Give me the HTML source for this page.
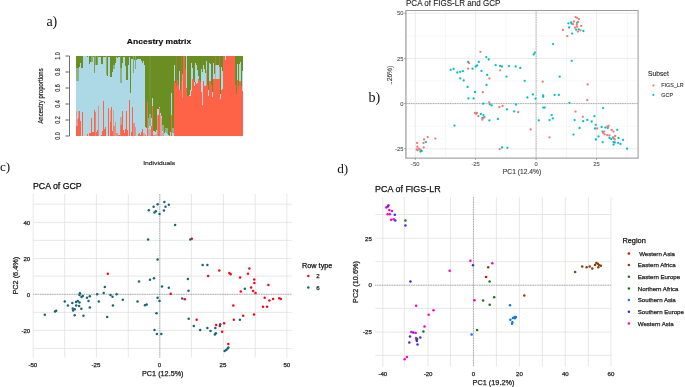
<!DOCTYPE html>
<html><head><meta charset="utf-8"><title>Figure</title>
<style>
html,body{margin:0;padding:0;background:#fff;}
svg{display:block;}
text.s{font-family:"Liberation Sans", Arial, Helvetica, sans-serif;}
text.r{font-family:"Liberation Serif", "Times New Roman", serif;}
</style></head><body>
<svg width="685" height="387" viewBox="0 0 685 387">
<rect width="685" height="387" fill="#fff"/>
<text class="r" x="46.4" y="26" font-size="14" fill="#111" text-anchor="start">a)</text>
<text class="s" x="0" y="0" font-size="7.4" fill="#111" text-anchor="middle" font-weight="bold" transform="translate(159 44) scale(1.15 1)" stroke="#111" stroke-width="0.15">Ancestry matrix</text>
<g shape-rendering="crispEdges">
<rect x="76" y="56" width="167" height="80" fill="#ADD8E6"/>
<rect x="76" y="56" width="1" height="25" fill="#6B8E23" fill-opacity="0.5"/>
<rect x="76" y="111" width="1" height="25" fill="#FF6347" fill-opacity="0.5"/>
<rect x="76" y="56" width="1" height="12" fill="#6B8E23"/>
<rect x="76" y="126.0" width="1" height="10" fill="#FF6347"/>
<rect x="77" y="56" width="1" height="25" fill="#6B8E23" fill-opacity="0.5"/>
<rect x="77" y="119" width="1" height="17" fill="#FF6347" fill-opacity="0.5"/>
<rect x="77" y="56" width="1" height="12" fill="#6B8E23"/>
<rect x="77" y="126.0" width="1" height="10" fill="#FF6347"/>
<rect x="78" y="56" width="1" height="25" fill="#6B8E23" fill-opacity="0.5"/>
<rect x="78" y="111" width="1" height="25" fill="#FF6347" fill-opacity="0.5"/>
<rect x="78" y="56" width="1" height="12" fill="#6B8E23"/>
<rect x="78" y="118.0" width="1" height="18" fill="#FF6347"/>
<rect x="79" y="56" width="1" height="11.4" fill="#6B8E23"/>
<rect x="79" y="111.0" width="1" height="25" fill="#FF6347"/>
<rect x="80" y="56" width="1" height="7" fill="#6B8E23"/>
<rect x="80" y="121.4" width="1" height="14.6" fill="#FF6347"/>
<rect x="81" y="56" width="1" height="12.4" fill="#6B8E23"/>
<rect x="82" y="56" width="1" height="12.4" fill="#6B8E23"/>
<rect x="82" y="112.0" width="1" height="24" fill="#FF6347"/>
<rect x="87" y="56" width="1" height="1" fill="#6B8E23"/>
<rect x="87" y="134.0" width="1" height="2" fill="#FF6347"/>
<rect x="88" y="135.5" width="1" height="0.5" fill="#FF6347"/>
<rect x="89" y="56" width="1" height="7.8" fill="#6B8E23"/>
<rect x="89" y="133.3" width="1" height="2.7" fill="#FF6347"/>
<rect x="90" y="56" width="1" height="5.7" fill="#6B8E23"/>
<rect x="90" y="132.8" width="1" height="3.2" fill="#FF6347"/>
<rect x="91" y="56" width="1" height="5.7" fill="#6B8E23" fill-opacity="0.6"/>
<rect x="91" y="118.3" width="1" height="17.7" fill="#FF6347"/>
<rect x="92" y="56" width="1" height="5.7" fill="#6B8E23" fill-opacity="0.6"/>
<rect x="92" y="132.3" width="1" height="3.7" fill="#FF6347"/>
<rect x="93" y="56" width="1" height="1" fill="#6B8E23"/>
<rect x="93" y="132.3" width="1" height="3.7" fill="#FF6347"/>
<rect x="94" y="56" width="1" height="16.6" fill="#6B8E23" fill-opacity="0.75"/>
<rect x="94" y="110.0" width="1" height="26" fill="#FF6347"/>
<rect x="95" y="56" width="1" height="9" fill="#6B8E23" fill-opacity="0.6"/>
<rect x="95" y="112.0" width="1" height="24" fill="#FF6347" fill-opacity="0.7"/>
<rect x="96" y="56" width="1" height="9.3" fill="#6B8E23"/>
<rect x="96" y="132.3" width="1" height="3.7" fill="#FF6347"/>
<rect x="97" y="56" width="1" height="9.3" fill="#6B8E23" fill-opacity="0.7"/>
<rect x="97" y="129.7" width="1" height="6.3" fill="#FF6347"/>
<rect x="98" y="56" width="1" height="1" fill="#6B8E23"/>
<rect x="98" y="106.0" width="1" height="30" fill="#FF6347" fill-opacity="0.6"/>
<rect x="99" y="56" width="1" height="1" fill="#6B8E23"/>
<rect x="99" y="135.5" width="1" height="0.5" fill="#FF6347"/>
<rect x="100" y="56" width="1" height="1" fill="#6B8E23"/>
<rect x="100" y="135.5" width="1" height="0.5" fill="#FF6347"/>
<rect x="101" y="56" width="1" height="7.8" fill="#6B8E23"/>
<rect x="101" y="135.0" width="1" height="1" fill="#FF6347"/>
<rect x="102" y="56" width="1" height="7.8" fill="#6B8E23"/>
<rect x="102" y="131.2" width="1" height="4.8" fill="#FF6347"/>
<rect x="103" y="56" width="1" height="1" fill="#6B8E23"/>
<rect x="103" y="100.7" width="1" height="35.3" fill="#FF6347"/>
<rect x="104" y="56" width="1" height="1" fill="#6B8E23"/>
<rect x="104" y="129.2" width="1" height="6.8" fill="#FF6347"/>
<rect x="105" y="56" width="1" height="1" fill="#6B8E23"/>
<rect x="105" y="127.1" width="1" height="8.9" fill="#FF6347"/>
<rect x="106" y="56" width="1" height="19" fill="#6B8E23" fill-opacity="0.55"/>
<rect x="106" y="135.5" width="1" height="0.5" fill="#FF6347"/>
<rect x="107" y="56" width="1" height="20" fill="#6B8E23"/>
<rect x="107" y="135.5" width="1" height="0.5" fill="#FF6347"/>
<rect x="108" y="56" width="1" height="1" fill="#6B8E23"/>
<rect x="108" y="108.0" width="1" height="28" fill="#FF6347"/>
<rect x="109" y="56" width="1" height="1" fill="#6B8E23"/>
<rect x="109" y="135.5" width="1" height="0.5" fill="#FF6347"/>
<rect x="110" y="110" width="1" height="26" fill="#FF6347" fill-opacity="0.5"/>
<rect x="110" y="56" width="1" height="20.7" fill="#6B8E23"/>
<rect x="110" y="122.0" width="1" height="14" fill="#FF6347"/>
<rect x="111" y="56" width="1" height="20.7" fill="#6B8E23"/>
<rect x="111" y="107.0" width="1" height="29" fill="#FF6347"/>
<rect x="112" y="56" width="1" height="16" fill="#6B8E23"/>
<rect x="112" y="130.7" width="1" height="5.3" fill="#FF6347"/>
<rect x="113" y="56" width="1" height="13" fill="#6B8E23" fill-opacity="0.5"/>
<rect x="113" y="110" width="1" height="26" fill="#FF6347" fill-opacity="0.5"/>
<rect x="113" y="56" width="1" height="8.8" fill="#6B8E23"/>
<rect x="113" y="126.0" width="1" height="10" fill="#FF6347" fill-opacity="0.5"/>
<rect x="114" y="56" width="1" height="13" fill="#6B8E23" fill-opacity="0.5"/>
<rect x="114" y="56" width="1" height="8.8" fill="#6B8E23"/>
<rect x="114" y="126.0" width="1" height="10" fill="#FF6347" fill-opacity="0.6"/>
<rect x="115" y="56" width="1" height="6.7" fill="#6B8E23"/>
<rect x="115" y="122.0" width="1" height="14" fill="#FF6347" fill-opacity="0.6"/>
<rect x="116" y="56" width="1" height="1" fill="#6B8E23"/>
<rect x="116" y="133.3" width="1" height="2.7" fill="#FF6347" fill-opacity="0.6"/>
<rect x="117" y="56" width="1" height="1.5" fill="#6B8E23"/>
<rect x="117" y="133.3" width="1" height="2.7" fill="#FF6347" fill-opacity="0.6"/>
<rect x="118" y="56" width="1" height="1" fill="#6B8E23"/>
<rect x="118" y="135.0" width="1" height="1" fill="#FF6347"/>
<rect x="119" y="56" width="1" height="0.5" fill="#6B8E23"/>
<rect x="119" y="135.0" width="1" height="1" fill="#FF6347"/>
<rect x="120" y="56" width="1" height="26.7" fill="#6B8E23" fill-opacity="0.5"/>
<rect x="120" y="117.2" width="1" height="18.8" fill="#FF6347" fill-opacity="0.5"/>
<rect x="120" y="56" width="1" height="12" fill="#6B8E23" fill-opacity="0.6"/>
<rect x="120" y="125.0" width="1" height="11" fill="#FF6347" fill-opacity="0.6"/>
<rect x="121" y="56" width="1" height="26.7" fill="#6B8E23" fill-opacity="0.5"/>
<rect x="121" y="117.2" width="1" height="18.8" fill="#FF6347" fill-opacity="0.5"/>
<rect x="121" y="56" width="1" height="12" fill="#6B8E23"/>
<rect x="121" y="125.0" width="1" height="11" fill="#FF6347"/>
<rect x="122" y="56" width="1" height="6.7" fill="#6B8E23"/>
<rect x="122" y="111.0" width="1" height="25" fill="#FF6347"/>
<rect x="123" y="56" width="1" height="0.5" fill="#6B8E23"/>
<rect x="123" y="129.7" width="1" height="6.3" fill="#FF6347"/>
<rect x="124" y="56" width="1" height="0.5" fill="#6B8E23"/>
<rect x="124" y="133.3" width="1" height="2.7" fill="#FF6347"/>
<rect x="125" y="56" width="1" height="10.4" fill="#6B8E23"/>
<rect x="125" y="129.2" width="1" height="6.8" fill="#FF6347"/>
<rect x="126" y="56" width="1" height="24.4" fill="#6B8E23"/>
<rect x="126" y="111.0" width="1" height="25" fill="#FF6347"/>
<rect x="127" y="56" width="1" height="24.4" fill="#6B8E23"/>
<rect x="127" y="129.7" width="1" height="6.3" fill="#FF6347"/>
<rect x="128" y="56" width="1" height="9.3" fill="#6B8E23"/>
<rect x="128" y="135.5" width="1" height="0.5" fill="#FF6347"/>
<rect x="129" y="56" width="1" height="1" fill="#6B8E23"/>
<rect x="129" y="100.1" width="1" height="35.9" fill="#FF6347"/>
<rect x="130" y="56" width="1" height="36.8" fill="#6B8E23"/>
<rect x="130" y="135.5" width="1" height="0.5" fill="#FF6347"/>
<rect x="131" y="56" width="1" height="3" fill="#6B8E23"/>
<rect x="131" y="131.8" width="1" height="4.2" fill="#FF6347"/>
<rect x="132" y="56" width="1" height="3" fill="#6B8E23"/>
<rect x="132" y="107.0" width="1" height="29" fill="#FF6347"/>
<rect x="133" y="56" width="1" height="17" fill="#6B8E23" fill-opacity="0.6"/>
<rect x="133" y="123.0" width="1" height="13" fill="#FF6347" fill-opacity="0.6"/>
<rect x="134" y="56" width="1" height="4" fill="#6B8E23"/>
<rect x="134" y="123.0" width="1" height="13" fill="#FF6347" fill-opacity="0.6"/>
<rect x="135" y="56" width="1" height="13" fill="#6B8E23" fill-opacity="0.6"/>
<rect x="135" y="126.6" width="1" height="9.4" fill="#FF6347" fill-opacity="0.6"/>
<rect x="136" y="56" width="1" height="4" fill="#6B8E23"/>
<rect x="136" y="135.5" width="1" height="0.5" fill="#FF6347"/>
<rect x="137" y="56" width="1" height="2.5" fill="#6B8E23"/>
<rect x="137" y="135.5" width="1" height="0.5" fill="#FF6347"/>
<rect x="138" y="56" width="1" height="2.5" fill="#6B8E23"/>
<rect x="138" y="133.8" width="1" height="2.2" fill="#FF6347"/>
<rect x="139" y="56" width="1" height="2.5" fill="#6B8E23"/>
<rect x="139" y="132.8" width="1" height="3.2" fill="#FF6347"/>
<rect x="140" y="56" width="1" height="3" fill="#6B8E23"/>
<rect x="140" y="135.0" width="1" height="1" fill="#FF6347"/>
<rect x="141" y="56" width="1" height="5" fill="#6B8E23"/>
<rect x="141" y="131.8" width="1" height="4.2" fill="#FF6347"/>
<rect x="142" y="56" width="1" height="6.7" fill="#6B8E23"/>
<rect x="142" y="129.2" width="1" height="6.8" fill="#FF6347"/>
<rect x="143" y="56" width="1" height="4.5" fill="#6B8E23"/>
<rect x="143" y="133.0" width="1" height="3" fill="#FF6347" fill-opacity="0.5"/>
<rect x="144" y="56" width="1" height="9.3" fill="#6B8E23"/>
<rect x="144" y="133.0" width="1" height="3" fill="#FF6347" fill-opacity="0.4"/>
<rect x="145" y="56" width="1" height="70.8" fill="#6B8E23"/>
<rect x="145" y="135.0" width="1" height="1" fill="#FF6347"/>
<rect x="146" y="56" width="1" height="71.5" fill="#6B8E23"/>
<rect x="146" y="135.5" width="1" height="0.5" fill="#FF6347"/>
<rect x="147" y="56" width="1" height="45.7" fill="#6B8E23"/>
<rect x="147" y="101.7" width="1" height="34.3" fill="#FF6347"/>
<rect x="148" y="56" width="1" height="72" fill="#6B8E23" fill-opacity="0.5"/>
<rect x="148" y="56" width="1" height="62" fill="#6B8E23"/>
<rect x="148" y="129.0" width="1" height="7" fill="#FF6347" fill-opacity="0.4"/>
<rect x="149" y="56" width="1" height="70" fill="#6B8E23" fill-opacity="0.5"/>
<rect x="149" y="56" width="1" height="58" fill="#6B8E23" fill-opacity="0.85"/>
<rect x="149" y="129.0" width="1" height="7" fill="#FF6347" fill-opacity="0.4"/>
<rect x="150" y="56" width="1" height="70" fill="#6B8E23" fill-opacity="0.5"/>
<rect x="150" y="56" width="1" height="58" fill="#6B8E23" fill-opacity="0.85"/>
<rect x="150" y="129.0" width="1" height="7" fill="#FF6347" fill-opacity="0.4"/>
<rect x="151" y="56" width="1" height="62" fill="#6B8E23"/>
<rect x="151" y="125.8" width="1" height="10.2" fill="#FF6347"/>
<rect x="152" y="56" width="1" height="42" fill="#6B8E23"/>
<rect x="152" y="106.4" width="1" height="29.6" fill="#FF6347"/>
<rect x="153" y="56" width="1" height="74.5" fill="#6B8E23"/>
<rect x="153" y="134.5" width="1" height="1.5" fill="#FF6347" fill-opacity="0.6"/>
<rect x="154" y="56" width="1" height="75" fill="#6B8E23"/>
<rect x="154" y="134.5" width="1" height="1.5" fill="#FF6347" fill-opacity="0.6"/>
<rect x="155" y="56" width="1" height="75.5" fill="#6B8E23"/>
<rect x="155" y="134.5" width="1" height="1.5" fill="#FF6347" fill-opacity="0.6"/>
<rect x="156" y="56" width="1" height="74" fill="#6B8E23"/>
<rect x="156" y="134.0" width="1" height="2" fill="#FF6347" fill-opacity="0.5"/>
<rect x="157" y="56" width="1" height="53" fill="#6B8E23"/>
<rect x="157" y="115.3" width="1" height="20.7" fill="#FF6347" fill-opacity="0.6"/>
<rect x="158" y="56" width="1" height="53" fill="#6B8E23"/>
<rect x="158" y="115.2" width="1" height="20.8" fill="#FF6347"/>
<rect x="159" y="56" width="1" height="51" fill="#6B8E23"/>
<rect x="159" y="108.3" width="1" height="27.7" fill="#FF6347"/>
<rect x="160" y="56" width="1" height="57" fill="#6B8E23"/>
<rect x="160" y="115.0" width="1" height="21" fill="#FF6347" fill-opacity="0.45"/>
<rect x="161" y="56" width="1" height="60" fill="#6B8E23"/>
<rect x="161" y="118.0" width="1" height="18" fill="#FF6347" fill-opacity="0.4"/>
<rect x="162" y="56" width="1" height="75" fill="#6B8E23" fill-opacity="0.5"/>
<rect x="162" y="56" width="1" height="68.7" fill="#6B8E23"/>
<rect x="162" y="133.0" width="1" height="3" fill="#FF6347" fill-opacity="0.4"/>
<rect x="163" y="56" width="1" height="75" fill="#6B8E23" fill-opacity="0.5"/>
<rect x="163" y="56" width="1" height="68.7" fill="#6B8E23"/>
<rect x="163" y="131.0" width="1" height="5" fill="#FF6347" fill-opacity="0.5"/>
<rect x="164" y="56" width="1" height="77" fill="#6B8E23"/>
<rect x="165" y="56" width="1" height="76" fill="#6B8E23" fill-opacity="0.5"/>
<rect x="165" y="56" width="1" height="71.8" fill="#6B8E23"/>
<rect x="166" y="56" width="1" height="77" fill="#6B8E23" fill-opacity="0.5"/>
<rect x="166" y="56" width="1" height="72" fill="#6B8E23"/>
<rect x="167" y="56" width="1" height="78" fill="#6B8E23" fill-opacity="0.5"/>
<rect x="167" y="56" width="1" height="72" fill="#6B8E23"/>
<rect x="168" y="56" width="1" height="79" fill="#6B8E23"/>
<rect x="169" y="56" width="1" height="79.5" fill="#6B8E23"/>
<rect x="170" y="56" width="1" height="76" fill="#6B8E23"/>
<rect x="171" y="56" width="1" height="37" fill="#6B8E23"/>
<rect x="171" y="114.7" width="1" height="21.3" fill="#FF6347"/>
<rect x="172" y="56" width="1" height="77" fill="#6B8E23" fill-opacity="0.5"/>
<rect x="172" y="56" width="1" height="72.3" fill="#6B8E23"/>
<rect x="173" y="56" width="1" height="77" fill="#6B8E23" fill-opacity="0.5"/>
<rect x="173" y="56" width="1" height="72.3" fill="#6B8E23"/>
<rect x="174" y="56" width="1" height="8.8" fill="#6B8E23"/>
<rect x="174" y="81.0" width="1" height="55" fill="#FF6347"/>
<rect x="175" y="56" width="1" height="26.5" fill="#6B8E23"/>
<rect x="175" y="82.5" width="1" height="53.5" fill="#FF6347"/>
<rect x="176" y="56" width="1" height="30" fill="#6B8E23"/>
<rect x="176" y="86.0" width="1" height="50" fill="#FF6347"/>
<rect x="177" y="56" width="1" height="24" fill="#6B8E23"/>
<rect x="177" y="80.0" width="1" height="56" fill="#FF6347"/>
<rect x="178" y="56" width="1" height="29" fill="#6B8E23"/>
<rect x="178" y="85.0" width="1" height="51" fill="#FF6347"/>
<rect x="179" y="56" width="1" height="15" fill="#6B8E23"/>
<rect x="179" y="90.0" width="1" height="46" fill="#FF6347"/>
<rect x="180" y="56" width="1" height="34" fill="#6B8E23"/>
<rect x="180" y="90.0" width="1" height="46" fill="#FF6347"/>
<rect x="181" y="56" width="1" height="25" fill="#6B8E23"/>
<rect x="181" y="81.0" width="1" height="55" fill="#FF6347"/>
<rect x="182" y="74" width="1" height="62" fill="#FF6347" fill-opacity="0.5"/>
<rect x="182" y="56" width="1" height="18" fill="#6B8E23"/>
<rect x="182" y="98.0" width="1" height="38" fill="#FF6347"/>
<rect x="183" y="56.0" width="1" height="80" fill="#FF6347"/>
<rect x="184" y="56.0" width="1" height="80" fill="#FF6347"/>
<rect x="185" y="56" width="1" height="12.5" fill="#6B8E23"/>
<rect x="185" y="68.5" width="1" height="67.5" fill="#FF6347"/>
<rect x="186" y="88.2" width="1" height="47.8" fill="#FF6347"/>
<rect x="187" y="56" width="1" height="40" fill="#6B8E23"/>
<rect x="187" y="96.0" width="1" height="40" fill="#FF6347"/>
<rect x="188" y="56" width="1" height="40" fill="#6B8E23"/>
<rect x="188" y="96.0" width="1" height="40" fill="#FF6347"/>
<rect x="189" y="56" width="1" height="39" fill="#6B8E23"/>
<rect x="189" y="96.0" width="1" height="40" fill="#FF6347"/>
<rect x="190" y="56" width="1" height="34" fill="#6B8E23"/>
<rect x="190" y="96.0" width="1" height="40" fill="#FF6347"/>
<rect x="191" y="56" width="1" height="6.8" fill="#6B8E23"/>
<rect x="191" y="91.0" width="1" height="45" fill="#FF6347"/>
<rect x="192" y="56" width="1" height="12" fill="#6B8E23"/>
<rect x="192" y="79.0" width="1" height="57" fill="#FF6347"/>
<rect x="193" y="56" width="1" height="23.4" fill="#6B8E23"/>
<rect x="193" y="79.4" width="1" height="56.6" fill="#FF6347"/>
<rect x="194" y="56" width="1" height="26" fill="#6B8E23"/>
<rect x="194" y="86.0" width="1" height="50" fill="#FF6347"/>
<rect x="195" y="56" width="1" height="6.8" fill="#6B8E23"/>
<rect x="195" y="81.5" width="1" height="54.5" fill="#FF6347"/>
<rect x="196" y="56" width="1" height="9.4" fill="#6B8E23"/>
<rect x="196" y="83.5" width="1" height="52.5" fill="#FF6347"/>
<rect x="197" y="56" width="1" height="14" fill="#6B8E23"/>
<rect x="197" y="83.3" width="1" height="52.7" fill="#FF6347"/>
<rect x="198" y="56" width="1" height="20.2" fill="#6B8E23"/>
<rect x="198" y="79.4" width="1" height="56.6" fill="#FF6347"/>
<rect x="199" y="56" width="1" height="24" fill="#6B8E23"/>
<rect x="199" y="80.0" width="1" height="56" fill="#FF6347"/>
<rect x="200" y="56" width="1" height="26" fill="#6B8E23"/>
<rect x="200" y="82.0" width="1" height="54" fill="#FF6347"/>
<rect x="201" y="56" width="1" height="13" fill="#6B8E23"/>
<rect x="201" y="91.5" width="1" height="44.5" fill="#FF6347"/>
<rect x="202" y="56" width="1" height="16" fill="#6B8E23"/>
<rect x="202" y="105.0" width="1" height="31" fill="#FF6347"/>
<rect x="203" y="56" width="1" height="9.4" fill="#6B8E23"/>
<rect x="203" y="81.0" width="1" height="55" fill="#FF6347"/>
<rect x="204" y="56" width="1" height="13" fill="#6B8E23"/>
<rect x="204" y="86.0" width="1" height="50" fill="#FF6347"/>
<rect x="205" y="56" width="1" height="16.6" fill="#6B8E23"/>
<rect x="205" y="86.0" width="1" height="50" fill="#FF6347"/>
<rect x="206" y="70" width="1" height="66" fill="#FF6347" fill-opacity="0.5"/>
<rect x="206" y="56" width="1" height="5.2" fill="#6B8E23"/>
<rect x="206" y="85.0" width="1" height="51" fill="#FF6347"/>
<rect x="207" y="56" width="1" height="29" fill="#6B8E23"/>
<rect x="207" y="85.0" width="1" height="51" fill="#FF6347"/>
<rect x="208" y="56" width="1" height="34" fill="#6B8E23"/>
<rect x="208" y="96.0" width="1" height="40" fill="#FF6347"/>
<rect x="209" y="56" width="1" height="7.3" fill="#6B8E23"/>
<rect x="209" y="81.4" width="1" height="54.6" fill="#FF6347"/>
<rect x="210" y="56" width="1" height="7.8" fill="#6B8E23"/>
<rect x="210" y="81.0" width="1" height="55" fill="#FF6347"/>
<rect x="211" y="56" width="1" height="29" fill="#6B8E23"/>
<rect x="211" y="85.0" width="1" height="51" fill="#FF6347"/>
<rect x="212" y="56" width="1" height="36" fill="#6B8E23"/>
<rect x="212" y="96.6" width="1" height="39.4" fill="#FF6347"/>
<rect x="213" y="56" width="1" height="7.3" fill="#6B8E23"/>
<rect x="213" y="79.0" width="1" height="57" fill="#FF6347"/>
<rect x="214" y="56" width="1" height="17.6" fill="#6B8E23"/>
<rect x="214" y="79.0" width="1" height="57" fill="#FF6347"/>
<rect x="215" y="56" width="1" height="9.4" fill="#6B8E23"/>
<rect x="215" y="79.4" width="1" height="56.6" fill="#FF6347"/>
<rect x="216" y="56" width="1" height="9.4" fill="#6B8E23"/>
<rect x="216" y="79.4" width="1" height="56.6" fill="#FF6347"/>
<rect x="217" y="56" width="1" height="9.4" fill="#6B8E23"/>
<rect x="217" y="79.4" width="1" height="56.6" fill="#FF6347"/>
<rect x="218" y="56" width="1" height="9.4" fill="#6B8E23"/>
<rect x="218" y="79.4" width="1" height="56.6" fill="#FF6347"/>
<rect x="219" y="56" width="1" height="11.4" fill="#6B8E23"/>
<rect x="219" y="79.0" width="1" height="57" fill="#FF6347"/>
<rect x="220" y="56" width="1" height="37.5" fill="#6B8E23"/>
<rect x="220" y="98.7" width="1" height="37.3" fill="#FF6347"/>
<rect x="221" y="56" width="1" height="11.4" fill="#6B8E23"/>
<rect x="221" y="90.2" width="1" height="45.8" fill="#FF6347"/>
<rect x="222" y="56" width="1" height="14.5" fill="#6B8E23"/>
<rect x="222" y="89.3" width="1" height="46.7" fill="#FF6347"/>
<rect x="223" y="56.0" width="1" height="80" fill="#FF6347"/>
<rect x="224" y="56.0" width="1" height="80" fill="#FF6347"/>
<rect x="225" y="59.6" width="1" height="76.4" fill="#FF6347"/>
<rect x="226" y="56.0" width="1" height="80" fill="#FF6347"/>
<rect x="227" y="56.0" width="1" height="80" fill="#FF6347"/>
<rect x="228" y="56.0" width="1" height="80" fill="#FF6347"/>
<rect x="229" y="56.0" width="1" height="80" fill="#FF6347"/>
<rect x="230" y="56.0" width="1" height="80" fill="#FF6347"/>
<rect x="231" y="56.0" width="1" height="80" fill="#FF6347"/>
<rect x="232" y="56.0" width="1" height="80" fill="#FF6347"/>
<rect x="233" y="56.0" width="1" height="80" fill="#FF6347"/>
<rect x="234" y="56.0" width="1" height="80" fill="#FF6347"/>
<rect x="235" y="56" width="1" height="29" fill="#6B8E23"/>
<rect x="235" y="85.0" width="1" height="51" fill="#FF6347"/>
<rect x="236" y="56" width="1" height="38" fill="#6B8E23"/>
<rect x="236" y="94.0" width="1" height="42" fill="#FF6347"/>
<rect x="237" y="56" width="1" height="7.8" fill="#6B8E23"/>
<rect x="237" y="80.4" width="1" height="55.6" fill="#FF6347"/>
<rect x="238" y="56" width="1" height="30" fill="#6B8E23"/>
<rect x="238" y="86.0" width="1" height="50" fill="#FF6347"/>
<rect x="239" y="56" width="1" height="7.5" fill="#6B8E23"/>
<rect x="239" y="80.5" width="1" height="55.5" fill="#FF6347"/>
<rect x="240" y="56" width="1" height="6.2" fill="#6B8E23"/>
<rect x="240" y="80.5" width="1" height="55.5" fill="#FF6347"/>
<rect x="241" y="56" width="1" height="30" fill="#6B8E23"/>
<rect x="241" y="86.0" width="1" height="50" fill="#FF6347"/>
<rect x="242" y="56" width="1" height="14.5" fill="#6B8E23"/>
<rect x="242" y="91.4" width="1" height="44.6" fill="#FF6347"/>
<rect x="176" y="56" width="1" height="80" fill="#FF6347" fill-opacity="0.35"/>
<rect x="181" y="56" width="1" height="80" fill="#FF6347" fill-opacity="0.35"/>
<rect x="215" y="56" width="1" height="80" fill="#FF6347" fill-opacity="0.45"/>
<rect x="219" y="56" width="1" height="80" fill="#FF6347" fill-opacity="0.4"/>
</g>
<g stroke="#555" stroke-width="0.85" fill="none">
<path d="M69.5 56V136"/>
<path d="M65.4 136H69.5"/>
<path d="M65.4 120H69.5"/>
<path d="M65.4 104H69.5"/>
<path d="M65.4 88H69.5"/>
<path d="M65.4 72H69.5"/>
<path d="M65.4 56H69.5"/>
</g>
<text class="s" x="0" y="0" font-size="5.5" fill="#333" text-anchor="middle" transform="translate(59.8 136) rotate(-90) scale(1 1.35)" stroke="#333" stroke-width="0.15">0.0</text>
<text class="s" x="0" y="0" font-size="5.5" fill="#333" text-anchor="middle" transform="translate(59.8 120) rotate(-90) scale(1 1.35)" stroke="#333" stroke-width="0.15">0.2</text>
<text class="s" x="0" y="0" font-size="5.5" fill="#333" text-anchor="middle" transform="translate(59.8 104) rotate(-90) scale(1 1.35)" stroke="#333" stroke-width="0.15">0.4</text>
<text class="s" x="0" y="0" font-size="5.5" fill="#333" text-anchor="middle" transform="translate(59.8 88) rotate(-90) scale(1 1.35)" stroke="#333" stroke-width="0.15">0.6</text>
<text class="s" x="0" y="0" font-size="5.5" fill="#333" text-anchor="middle" transform="translate(59.8 72) rotate(-90) scale(1 1.35)" stroke="#333" stroke-width="0.15">0.8</text>
<text class="s" x="0" y="0" font-size="5.5" fill="#333" text-anchor="middle" transform="translate(59.8 56) rotate(-90) scale(1 1.35)" stroke="#333" stroke-width="0.15">1.0</text>
<text class="s" x="0" y="0" font-size="6" fill="#222" text-anchor="middle" transform="translate(42.5 96) rotate(-90) scale(1.01 1.35)" stroke="#222" stroke-width="0.15">Ancestry proportions</text>
<text class="s" x="0" y="0" font-size="5.9" fill="#222" text-anchor="middle" transform="translate(159.2 164.9) scale(1.15 1)" stroke="#222" stroke-width="0.15">Individuals</text>
<text class="s" x="406" y="5.9" font-size="8.5" fill="#222" text-anchor="start" textLength="94.5" lengthAdjust="spacingAndGlyphs" stroke="#222" stroke-width="0.1">PCA of FIGS-LR and GCP</text>
<rect x="405.9" y="10.3" width="232.2" height="147.8" fill="#fff"/>
<g stroke="#ededed" stroke-width="0.45">
<path d="M445.5 10.3V158.1"/>
<path d="M506.0 10.3V158.1"/>
<path d="M566.5 10.3V158.1"/>
<path d="M627.4 10.3V158.1"/>
<path d="M405.9 35.8H638.1"/>
<path d="M405.9 81.0H638.1"/>
<path d="M405.9 126.2H638.1"/>
</g>
<g stroke="#e6e6e6" stroke-width="0.8">
<path d="M415.3 10.3V158.1"/>
<path d="M475.6 10.3V158.1"/>
<path d="M536.1 10.3V158.1"/>
<path d="M596.5 10.3V158.1"/>
<path d="M405.9 13.2H638.1"/>
<path d="M405.9 58.4H638.1"/>
<path d="M405.9 103.6H638.1"/>
<path d="M405.9 148.8H638.1"/>
</g>
<g stroke="#555" stroke-width="0.55" stroke-dasharray="0.8 0.9">
<path d="M536.1 10.3V158.1"/>
<path d="M405.9 103.6H638.1"/>
</g>
<g fill="#00BFC4">
<circle cx="450.7" cy="69.8" r="1.15"/>
<circle cx="453.6" cy="69.0" r="1.15"/>
<circle cx="457.3" cy="72.5" r="1.15"/>
<circle cx="460.2" cy="71.8" r="1.15"/>
<circle cx="462.8" cy="71.2" r="1.15"/>
<circle cx="460.2" cy="78.4" r="1.15"/>
<circle cx="463.7" cy="80.4" r="1.15"/>
<circle cx="468.1" cy="61.9" r="1.15"/>
<circle cx="472.5" cy="68.7" r="1.15"/>
<circle cx="475.8" cy="66.5" r="1.15"/>
<circle cx="477.1" cy="65.4" r="1.15"/>
<circle cx="478.8" cy="61.9" r="1.15"/>
<circle cx="481.5" cy="70.9" r="1.15"/>
<circle cx="486.3" cy="57.1" r="1.15"/>
<circle cx="488.7" cy="59.5" r="1.15"/>
<circle cx="487.2" cy="74.9" r="1.15"/>
<circle cx="495.7" cy="65.2" r="1.15"/>
<circle cx="500.1" cy="65.9" r="1.15"/>
<circle cx="501.9" cy="66.5" r="1.15"/>
<circle cx="506.5" cy="76.6" r="1.15"/>
<circle cx="508.9" cy="66.1" r="1.15"/>
<circle cx="515.7" cy="66.5" r="1.15"/>
<circle cx="520.3" cy="67.9" r="1.15"/>
<circle cx="524.7" cy="80.8" r="1.15"/>
<circle cx="486.5" cy="85.0" r="1.15"/>
<circle cx="568.4" cy="23.3" r="1.15"/>
<circle cx="571.1" cy="22.4" r="1.15"/>
<circle cx="571.7" cy="23.7" r="1.15"/>
<circle cx="577.0" cy="22.8" r="1.15"/>
<circle cx="569.1" cy="27.5" r="1.15"/>
<circle cx="576.1" cy="29.7" r="1.15"/>
<circle cx="578.8" cy="29.4" r="1.15"/>
<circle cx="583.4" cy="31.0" r="1.15"/>
<circle cx="572.2" cy="33.6" r="1.15"/>
<circle cx="553.1" cy="44.1" r="1.15"/>
<circle cx="534.8" cy="52.7" r="1.15"/>
<circle cx="533.7" cy="54.5" r="1.15"/>
<circle cx="571.7" cy="60.8" r="1.15"/>
<circle cx="559.7" cy="76.7" r="1.15"/>
<circle cx="467.6" cy="87.0" r="1.15"/>
<circle cx="474.9" cy="92.0" r="1.15"/>
<circle cx="468.5" cy="98.4" r="1.15"/>
<circle cx="473.6" cy="98.4" r="1.15"/>
<circle cx="527.4" cy="97.5" r="1.15"/>
<circle cx="483.2" cy="103.7" r="1.15"/>
<circle cx="489.8" cy="104.3" r="1.15"/>
<circle cx="491.6" cy="105.4" r="1.15"/>
<circle cx="516.0" cy="104.5" r="1.15"/>
<circle cx="506.9" cy="109.4" r="1.15"/>
<circle cx="514.2" cy="111.4" r="1.15"/>
<circle cx="480.8" cy="114.0" r="1.15"/>
<circle cx="483.4" cy="115.1" r="1.15"/>
<circle cx="482.4" cy="117.9" r="1.15"/>
<circle cx="484.5" cy="117.1" r="1.15"/>
<circle cx="489.4" cy="120.4" r="1.15"/>
<circle cx="497.9" cy="119.0" r="1.15"/>
<circle cx="454.5" cy="125.6" r="1.15"/>
<circle cx="425.9" cy="142.1" r="1.15"/>
<circle cx="502.1" cy="147.4" r="1.15"/>
<circle cx="507.4" cy="147.8" r="1.15"/>
<circle cx="420.9" cy="150.5" r="1.15"/>
<circle cx="420.4" cy="151.6" r="1.15"/>
<circle cx="421.7" cy="150.9" r="1.15"/>
<circle cx="532.9" cy="94.4" r="1.15"/>
<circle cx="535.5" cy="98.6" r="1.15"/>
<circle cx="543.2" cy="95.5" r="1.15"/>
<circle cx="543.2" cy="96.8" r="1.15"/>
<circle cx="554.6" cy="94.9" r="1.15"/>
<circle cx="558.8" cy="94.9" r="1.15"/>
<circle cx="569.5" cy="102.8" r="1.15"/>
<circle cx="543.2" cy="107.6" r="1.15"/>
<circle cx="544.7" cy="107.6" r="1.15"/>
<circle cx="603.1" cy="108.1" r="1.15"/>
<circle cx="551.7" cy="115.1" r="1.15"/>
<circle cx="552.8" cy="118.4" r="1.15"/>
<circle cx="549.5" cy="120.1" r="1.15"/>
<circle cx="538.8" cy="120.4" r="1.15"/>
<circle cx="594.4" cy="116.2" r="1.15"/>
<circle cx="574.6" cy="120.1" r="1.15"/>
<circle cx="583.2" cy="121.2" r="1.15"/>
<circle cx="587.3" cy="119.9" r="1.15"/>
<circle cx="591.7" cy="121.5" r="1.15"/>
<circle cx="595.7" cy="124.8" r="1.15"/>
<circle cx="579.6" cy="128.0" r="1.15"/>
<circle cx="595.0" cy="128.5" r="1.15"/>
<circle cx="601.6" cy="127.0" r="1.15"/>
<circle cx="605.3" cy="127.6" r="1.15"/>
<circle cx="607.8" cy="128.0" r="1.15"/>
<circle cx="617.2" cy="129.8" r="1.15"/>
<circle cx="602.5" cy="131.6" r="1.15"/>
<circle cx="573.5" cy="134.6" r="1.15"/>
<circle cx="598.5" cy="136.4" r="1.15"/>
<circle cx="595.9" cy="139.5" r="1.15"/>
<circle cx="609.5" cy="137.9" r="1.15"/>
<circle cx="611.3" cy="139.0" r="1.15"/>
<circle cx="613.0" cy="137.3" r="1.15"/>
<circle cx="618.5" cy="137.9" r="1.15"/>
<circle cx="623.1" cy="139.9" r="1.15"/>
<circle cx="602.7" cy="142.1" r="1.15"/>
<circle cx="613.5" cy="142.1" r="1.15"/>
<circle cx="614.8" cy="142.5" r="1.15"/>
<circle cx="618.1" cy="142.8" r="1.15"/>
<circle cx="620.5" cy="143.9" r="1.15"/>
<circle cx="613.5" cy="144.7" r="1.15"/>
<circle cx="627.1" cy="148.7" r="1.15"/>
</g>
<g fill="#F8766D">
<circle cx="480.4" cy="51.8" r="1.15"/>
<circle cx="469.0" cy="63.2" r="1.15"/>
<circle cx="468.1" cy="68.7" r="1.15"/>
<circle cx="500.1" cy="70.3" r="1.15"/>
<circle cx="489.4" cy="78.4" r="1.15"/>
<circle cx="575.5" cy="17.1" r="1.15"/>
<circle cx="577.0" cy="17.8" r="1.15"/>
<circle cx="579.0" cy="19.1" r="1.15"/>
<circle cx="573.9" cy="21.5" r="1.15"/>
<circle cx="578.1" cy="22.0" r="1.15"/>
<circle cx="573.0" cy="24.2" r="1.15"/>
<circle cx="576.8" cy="24.8" r="1.15"/>
<circle cx="581.2" cy="25.9" r="1.15"/>
<circle cx="575.0" cy="27.7" r="1.15"/>
<circle cx="577.2" cy="26.8" r="1.15"/>
<circle cx="562.9" cy="29.9" r="1.15"/>
<circle cx="580.5" cy="30.3" r="1.15"/>
<circle cx="577.9" cy="31.6" r="1.15"/>
<circle cx="567.3" cy="36.2" r="1.15"/>
<circle cx="542.7" cy="81.7" r="1.15"/>
<circle cx="587.7" cy="84.4" r="1.15"/>
<circle cx="482.8" cy="92.2" r="1.15"/>
<circle cx="489.2" cy="102.4" r="1.15"/>
<circle cx="499.3" cy="107.2" r="1.15"/>
<circle cx="502.6" cy="105.9" r="1.15"/>
<circle cx="518.2" cy="112.2" r="1.15"/>
<circle cx="474.9" cy="112.9" r="1.15"/>
<circle cx="476.9" cy="112.9" r="1.15"/>
<circle cx="476.2" cy="113.8" r="1.15"/>
<circle cx="478.4" cy="116.2" r="1.15"/>
<circle cx="483.9" cy="117.5" r="1.15"/>
<circle cx="482.4" cy="119.7" r="1.15"/>
<circle cx="530.6" cy="129.5" r="1.15"/>
<circle cx="427.7" cy="137.1" r="1.15"/>
<circle cx="435.3" cy="138.6" r="1.15"/>
<circle cx="424.1" cy="139.5" r="1.15"/>
<circle cx="417.1" cy="143.0" r="1.15"/>
<circle cx="423.5" cy="143.0" r="1.15"/>
<circle cx="417.3" cy="146.7" r="1.15"/>
<circle cx="423.7" cy="147.4" r="1.15"/>
<circle cx="416.7" cy="149.4" r="1.15"/>
<circle cx="418.7" cy="148.7" r="1.15"/>
<circle cx="419.8" cy="149.4" r="1.15"/>
<circle cx="417.6" cy="150.2" r="1.15"/>
<circle cx="499.7" cy="149.1" r="1.15"/>
<circle cx="587.3" cy="100.2" r="1.15"/>
<circle cx="575.5" cy="111.6" r="1.15"/>
<circle cx="582.9" cy="116.8" r="1.15"/>
<circle cx="549.5" cy="137.3" r="1.15"/>
<circle cx="597.2" cy="128.5" r="1.15"/>
<circle cx="608.6" cy="125.9" r="1.15"/>
<circle cx="607.3" cy="126.7" r="1.15"/>
<circle cx="611.7" cy="130.0" r="1.15"/>
<circle cx="613.5" cy="131.6" r="1.15"/>
<circle cx="604.2" cy="131.6" r="1.15"/>
<circle cx="603.1" cy="133.1" r="1.15"/>
<circle cx="604.7" cy="134.4" r="1.15"/>
<circle cx="607.3" cy="135.1" r="1.15"/>
<circle cx="609.5" cy="135.5" r="1.15"/>
<circle cx="615.2" cy="136.0" r="1.15"/>
<circle cx="613.9" cy="138.4" r="1.15"/>
<circle cx="614.8" cy="139.5" r="1.15"/>
</g>
<path d="M405.9 10.4H638.1V158.1" fill="none" stroke="#9c9c9c" stroke-width="1.05"/>
<path d="M405.9 9.9V158.1H638.6" fill="none" stroke="#a8a8a8" stroke-width="1.4"/>
<g stroke="#777" stroke-width="0.6">
<path d="M404 13.2H405.9"/>
<path d="M404 58.4H405.9"/>
<path d="M404 103.6H405.9"/>
<path d="M404 148.8H405.9"/>
<path d="M415.3 158.1V160"/>
<path d="M475.6 158.1V160"/>
<path d="M536.1 158.1V160"/>
<path d="M596.5 158.1V160"/>
</g>
<text class="s" x="403.4" y="15.299999999999999" font-size="5.8" fill="#555" text-anchor="end" stroke="#555" stroke-width="0.1">50</text>
<text class="s" x="403.4" y="60.5" font-size="5.8" fill="#555" text-anchor="end" stroke="#555" stroke-width="0.1">25</text>
<text class="s" x="403.4" y="105.69999999999999" font-size="5.8" fill="#555" text-anchor="end" stroke="#555" stroke-width="0.1">0</text>
<text class="s" x="403.4" y="150.9" font-size="5.8" fill="#555" text-anchor="end" stroke="#555" stroke-width="0.1">-25</text>
<text class="s" x="415.3" y="166.0" font-size="5.8" fill="#555" text-anchor="middle" stroke="#555" stroke-width="0.1">-50</text>
<text class="s" x="475.6" y="166.0" font-size="5.8" fill="#555" text-anchor="middle" stroke="#555" stroke-width="0.1">-25</text>
<text class="s" x="536.1" y="166.0" font-size="5.8" fill="#555" text-anchor="middle" stroke="#555" stroke-width="0.1">0</text>
<text class="s" x="596.5" y="166.0" font-size="5.8" fill="#555" text-anchor="middle" stroke="#555" stroke-width="0.1">25</text>
<text class="s" x="522" y="173.8" font-size="6.7" fill="#333" text-anchor="middle" stroke="#333" stroke-width="0.1">PC1 (12.4%)</text>
<clipPath id="cb"><rect x="380" y="60" width="20" height="24.3"/></clipPath>
<g clip-path="url(#cb)">
<text class="s" x="392.2" y="65.7" font-size="6.7" fill="#333" text-anchor="end" transform="rotate(-90 392.2 65.7)" stroke="#333" stroke-width="0.1">PC2 (1.26%)</text>
</g>
<text class="r" x="368.4" y="102.2" font-size="14.1" fill="#111" text-anchor="start">b)</text>
<text class="s" x="648" y="76.0" font-size="6.7" fill="#222" text-anchor="start" stroke="#222" stroke-width="0.1">Subset</text>
<g fill="#F8766D">
<circle cx="653.4" cy="85.4" r="1.05"/>
</g>
<g fill="#00BFC4">
<circle cx="653.4" cy="94.9" r="1.05"/>
</g>
<text class="s" x="661.3" y="87.3" font-size="5.4" fill="#333" text-anchor="start" stroke="#333" stroke-width="0.1">FIGS_LR</text>
<text class="s" x="661.3" y="96.8" font-size="5.4" fill="#333" text-anchor="start" stroke="#333" stroke-width="0.1">GCP</text>
<text class="r" x="-0.1" y="171.3" font-size="13.2" fill="#111" text-anchor="start">c)</text>
<text class="s" x="33" y="189.2" font-size="8.75" fill="#111" text-anchor="start" stroke="#111" stroke-width="0.25">PCA of GCP</text>
<g stroke="#dedede" stroke-width="0.7">
<path d="M33.2 194.0V357.7"/>
<path d="M64.7 194.0V357.7"/>
<path d="M96.4 194.0V357.7"/>
<path d="M128.3 194.0V357.7"/>
<path d="M159.8 194.0V357.7"/>
<path d="M191.4 194.0V357.7"/>
<path d="M223.4 194.0V357.7"/>
<path d="M255.3 194.0V357.7"/>
<path d="M286.9 194.0V357.7"/>
<path d="M33.2 204.2H291.8"/>
<path d="M33.2 222.4H291.8"/>
<path d="M33.2 240.4H291.8"/>
<path d="M33.2 258.5H291.8"/>
<path d="M33.2 276.1H291.8"/>
<path d="M33.2 294.3H291.8"/>
<path d="M33.2 312.4H291.8"/>
<path d="M33.2 330.4H291.8"/>
<path d="M33.2 348.5H291.8"/>
</g>
<g stroke="#555" stroke-width="0.55" stroke-dasharray="0.8 0.9">
<path d="M159.8 194.0V357.7"/>
<path d="M33.2 294.3H291.8"/>
</g>
<g fill="#F8061A">
<circle cx="107.8" cy="273.8" r="1.25"/>
<circle cx="191.8" cy="238.8" r="1.25"/>
<circle cx="219.3" cy="270.4" r="1.25"/>
<circle cx="249.4" cy="268.4" r="1.25"/>
<circle cx="229.4" cy="273.0" r="1.25"/>
<circle cx="230.7" cy="274.2" r="1.25"/>
<circle cx="248.0" cy="273.7" r="1.25"/>
<circle cx="208.1" cy="276.0" r="1.25"/>
<circle cx="240.1" cy="277.5" r="1.25"/>
<circle cx="254.2" cy="279.5" r="1.25"/>
<circle cx="254.4" cy="283.0" r="1.25"/>
<circle cx="251.1" cy="287.4" r="1.25"/>
<circle cx="253.1" cy="290.9" r="1.25"/>
<circle cx="255.5" cy="292.9" r="1.25"/>
<circle cx="240.8" cy="291.4" r="1.25"/>
<circle cx="268.4" cy="285.1" r="1.25"/>
<circle cx="264.7" cy="297.7" r="1.25"/>
<circle cx="269.4" cy="300.6" r="1.25"/>
<circle cx="263.0" cy="306.7" r="1.25"/>
<circle cx="267.1" cy="306.7" r="1.25"/>
<circle cx="233.3" cy="305.4" r="1.25"/>
<circle cx="170.7" cy="293.8" r="1.25"/>
<circle cx="184.8" cy="299.3" r="1.25"/>
<circle cx="196.7" cy="319.7" r="1.25"/>
<circle cx="233.8" cy="319.7" r="1.25"/>
<circle cx="243.2" cy="315.7" r="1.25"/>
<circle cx="254.0" cy="314.4" r="1.25"/>
<circle cx="224.1" cy="323.2" r="1.25"/>
<circle cx="216.2" cy="325.0" r="1.25"/>
<circle cx="219.9" cy="326.1" r="1.25"/>
<circle cx="222.1" cy="331.8" r="1.25"/>
<circle cx="228.3" cy="344.1" r="1.25"/>
<circle cx="273.1" cy="299.0" r="1.25"/>
<circle cx="279.3" cy="298.2" r="1.25"/>
<circle cx="280.8" cy="299.0" r="1.25"/>
</g>
<g fill="#1A6478">
<circle cx="44.8" cy="314.7" r="1.25"/>
<circle cx="55.0" cy="311.6" r="1.25"/>
<circle cx="56.2" cy="310.8" r="1.25"/>
<circle cx="64.8" cy="301.5" r="1.25"/>
<circle cx="67.9" cy="305.5" r="1.25"/>
<circle cx="72.3" cy="303.0" r="1.25"/>
<circle cx="72.7" cy="308.5" r="1.25"/>
<circle cx="73.1" cy="310.5" r="1.25"/>
<circle cx="74.7" cy="309.2" r="1.25"/>
<circle cx="74.7" cy="315.3" r="1.25"/>
<circle cx="76.0" cy="302.0" r="1.25"/>
<circle cx="76.2" cy="305.5" r="1.25"/>
<circle cx="77.8" cy="301.1" r="1.25"/>
<circle cx="79.1" cy="306.1" r="1.25"/>
<circle cx="79.5" cy="302.6" r="1.25"/>
<circle cx="79.9" cy="293.2" r="1.25"/>
<circle cx="79.5" cy="294.9" r="1.25"/>
<circle cx="81.3" cy="308.8" r="1.25"/>
<circle cx="81.5" cy="297.1" r="1.25"/>
<circle cx="82.8" cy="296.0" r="1.25"/>
<circle cx="83.5" cy="315.8" r="1.25"/>
<circle cx="87.0" cy="297.8" r="1.25"/>
<circle cx="88.5" cy="301.1" r="1.25"/>
<circle cx="89.8" cy="296.2" r="1.25"/>
<circle cx="89.8" cy="307.4" r="1.25"/>
<circle cx="97.1" cy="294.3" r="1.25"/>
<circle cx="98.8" cy="301.5" r="1.25"/>
<circle cx="103.7" cy="292.9" r="1.25"/>
<circle cx="104.8" cy="287.0" r="1.25"/>
<circle cx="107.2" cy="317.1" r="1.25"/>
<circle cx="110.5" cy="295.1" r="1.25"/>
<circle cx="112.5" cy="296.7" r="1.25"/>
<circle cx="112.9" cy="305.5" r="1.25"/>
<circle cx="116.6" cy="294.3" r="1.25"/>
<circle cx="122.8" cy="299.8" r="1.25"/>
<circle cx="137.5" cy="301.6" r="1.25"/>
<circle cx="139.0" cy="281.5" r="1.25"/>
<circle cx="145.0" cy="305.2" r="1.25"/>
<circle cx="146.7" cy="304.6" r="1.25"/>
<circle cx="150.0" cy="279.8" r="1.25"/>
<circle cx="164.4" cy="201.9" r="1.25"/>
<circle cx="157.6" cy="204.3" r="1.25"/>
<circle cx="168.8" cy="204.7" r="1.25"/>
<circle cx="153.6" cy="206.7" r="1.25"/>
<circle cx="165.5" cy="206.7" r="1.25"/>
<circle cx="148.8" cy="210.2" r="1.25"/>
<circle cx="163.9" cy="210.6" r="1.25"/>
<circle cx="155.8" cy="211.3" r="1.25"/>
<circle cx="154.5" cy="212.4" r="1.25"/>
<circle cx="159.5" cy="213.9" r="1.25"/>
<circle cx="175.1" cy="225.1" r="1.25"/>
<circle cx="148.1" cy="239.4" r="1.25"/>
<circle cx="190.3" cy="239.4" r="1.25"/>
<circle cx="157.6" cy="259.4" r="1.25"/>
<circle cx="202.6" cy="264.9" r="1.25"/>
<circle cx="207.4" cy="264.9" r="1.25"/>
<circle cx="154.0" cy="278.2" r="1.25"/>
<circle cx="162.0" cy="286.5" r="1.25"/>
<circle cx="168.8" cy="287.8" r="1.25"/>
<circle cx="157.6" cy="297.7" r="1.25"/>
<circle cx="159.5" cy="301.0" r="1.25"/>
<circle cx="156.5" cy="313.3" r="1.25"/>
<circle cx="154.5" cy="330.0" r="1.25"/>
<circle cx="156.9" cy="334.0" r="1.25"/>
<circle cx="161.3" cy="334.0" r="1.25"/>
<circle cx="187.9" cy="279.1" r="1.25"/>
<circle cx="188.5" cy="290.7" r="1.25"/>
<circle cx="182.2" cy="298.6" r="1.25"/>
<circle cx="188.7" cy="318.8" r="1.25"/>
<circle cx="193.8" cy="326.1" r="1.25"/>
<circle cx="200.2" cy="330.0" r="1.25"/>
<circle cx="207.4" cy="328.0" r="1.25"/>
<circle cx="210.5" cy="330.9" r="1.25"/>
<circle cx="215.3" cy="328.0" r="1.25"/>
<circle cx="220.2" cy="324.3" r="1.25"/>
<circle cx="214.9" cy="334.4" r="1.25"/>
<circle cx="215.8" cy="333.3" r="1.25"/>
<circle cx="239.9" cy="319.7" r="1.25"/>
<circle cx="244.8" cy="288.7" r="1.25"/>
<circle cx="224.6" cy="351.0" r="1.25"/>
<circle cx="226.2" cy="349.9" r="1.25"/>
<circle cx="227.6" cy="348.6" r="1.25"/>
<circle cx="228.4" cy="347.6" r="1.25"/>
</g>
<text class="s" x="30.2" y="224.6" font-size="6.1" fill="#222" text-anchor="end" stroke="#222" stroke-width="0.25">40</text>
<text class="s" x="30.2" y="260.7" font-size="6.1" fill="#222" text-anchor="end" stroke="#222" stroke-width="0.25">20</text>
<text class="s" x="30.2" y="296.5" font-size="6.1" fill="#222" text-anchor="end" stroke="#222" stroke-width="0.25">0</text>
<text class="s" x="30.2" y="332.59999999999997" font-size="6.1" fill="#222" text-anchor="end" stroke="#222" stroke-width="0.25">-20</text>
<text class="s" x="32.800000000000004" y="367.0" font-size="6.1" fill="#222" text-anchor="middle" stroke="#222" stroke-width="0.25">-50</text>
<text class="s" x="96.0" y="367.0" font-size="6.1" fill="#222" text-anchor="middle" stroke="#222" stroke-width="0.25">-25</text>
<text class="s" x="159.4" y="367.0" font-size="6.1" fill="#222" text-anchor="middle" stroke="#222" stroke-width="0.25">0</text>
<text class="s" x="223.0" y="367.0" font-size="6.1" fill="#222" text-anchor="middle" stroke="#222" stroke-width="0.25">25</text>
<text class="s" x="286.8" y="367.0" font-size="6.1" fill="#222" text-anchor="middle" stroke="#222" stroke-width="0.25">50</text>
<text class="s" x="162.8" y="375.8" font-size="7.25" fill="#222" text-anchor="middle" stroke="#222" stroke-width="0.25">PC1 (12.5%)</text>
<text class="s" x="18.3" y="275.7" font-size="7.3" fill="#222" text-anchor="middle" transform="rotate(-90 18.3 275.7)" stroke="#222" stroke-width="0.25">PC2 (6.4%)</text>
<text class="s" x="302" y="268.0" font-size="7.3" fill="#111" text-anchor="start" stroke="#111" stroke-width="0.25">Row type</text>
<g fill="#F8061A">
<circle cx="308.3" cy="276.0" r="1.25"/>
</g>
<g fill="#1A6478">
<circle cx="308.3" cy="287.6" r="1.25"/>
</g>
<text class="s" x="316.3" y="278.2" font-size="6.1" fill="#222" text-anchor="start" stroke="#222" stroke-width="0.25">2</text>
<text class="s" x="316.3" y="289.8" font-size="6.1" fill="#222" text-anchor="start" stroke="#222" stroke-width="0.25">6</text>
<text class="r" x="337.2" y="173.2" font-size="13.2" fill="#111" text-anchor="start">d)</text>
<text class="s" x="375.1" y="191.8" font-size="8.95" fill="#111" text-anchor="start" stroke="#111" stroke-width="0.25">PCA of FIGS-LR</text>
<g stroke="#dedede" stroke-width="0.7">
<path d="M382.8 197.1V366.5"/>
<path d="M404.3 197.1V366.5"/>
<path d="M428.1 197.1V366.5"/>
<path d="M450.5 197.1V366.5"/>
<path d="M473.4 197.1V366.5"/>
<path d="M496.4 197.1V366.5"/>
<path d="M519.4 197.1V366.5"/>
<path d="M542.4 197.1V366.5"/>
<path d="M565.3 197.1V366.5"/>
<path d="M588.4 197.1V366.5"/>
<path d="M611.0 197.1V366.5"/>
<path d="M375.3 214.5H611.3"/>
<path d="M375.3 238.3H611.3"/>
<path d="M375.3 261.6H611.3"/>
<path d="M375.3 285.2H611.3"/>
<path d="M375.3 308.4H611.3"/>
<path d="M375.3 332.1H611.3"/>
<path d="M375.3 355.4H611.3"/>
</g>
<g stroke="#555" stroke-width="0.55" stroke-dasharray="0.8 0.9">
<path d="M473.45 197.1V366.5"/>
<path d="M375.3 285.2H611.3"/>
</g>
<g fill="#FF00BF">
<circle cx="388.5" cy="205.3" r="1.25"/>
<circle cx="386.3" cy="207.5" r="1.25"/>
<circle cx="389.3" cy="210.1" r="1.25"/>
<circle cx="392.0" cy="211.0" r="1.25"/>
<circle cx="387.6" cy="214.3" r="1.25"/>
<circle cx="389.8" cy="214.3" r="1.25"/>
<circle cx="391.1" cy="219.8" r="1.25"/>
<circle cx="393.7" cy="219.3" r="1.25"/>
<circle cx="470.4" cy="260.8" r="1.25"/>
<circle cx="492.3" cy="263.3" r="1.25"/>
<circle cx="449.7" cy="270.8" r="1.25"/>
<circle cx="416.1" cy="305.7" r="1.25"/>
<circle cx="474.5" cy="300.2" r="1.25"/>
<circle cx="433.5" cy="310.3" r="1.25"/>
<circle cx="428.7" cy="314.7" r="1.25"/>
<circle cx="424.5" cy="326.4" r="1.25"/>
<circle cx="411.3" cy="331.9" r="1.25"/>
<circle cx="415.7" cy="333.0" r="1.25"/>
<circle cx="416.1" cy="338.0" r="1.25"/>
<circle cx="406.9" cy="357.1" r="1.25"/>
<circle cx="404.7" cy="359.3" r="1.25"/>
</g>
<g fill="#4A22F2">
<circle cx="387.8" cy="206.6" r="1.25"/>
<circle cx="394.8" cy="214.7" r="1.25"/>
<circle cx="395.3" cy="220.4" r="1.25"/>
<circle cx="405.4" cy="225.5" r="1.25"/>
<circle cx="473.0" cy="265.3" r="1.25"/>
<circle cx="410.4" cy="281.6" r="1.25"/>
<circle cx="413.3" cy="332.4" r="1.25"/>
<circle cx="410.0" cy="336.5" r="1.25"/>
<circle cx="420.3" cy="337.5" r="1.25"/>
<circle cx="416.6" cy="339.6" r="1.25"/>
<circle cx="416.8" cy="341.1" r="1.25"/>
<circle cx="409.3" cy="342.4" r="1.25"/>
<circle cx="417.5" cy="344.6" r="1.25"/>
</g>
<g fill="#147814">
<circle cx="405.4" cy="220.4" r="1.25"/>
<circle cx="489.6" cy="281.6" r="1.25"/>
<circle cx="483.1" cy="300.6" r="1.25"/>
<circle cx="489.7" cy="304.8" r="1.25"/>
<circle cx="477.1" cy="330.1" r="1.25"/>
<circle cx="423.4" cy="331.6" r="1.25"/>
<circle cx="417.2" cy="339.0" r="1.25"/>
<circle cx="494.2" cy="297.2" r="1.25"/>
</g>
<g fill="#8B3F0A">
<circle cx="488.2" cy="267.3" r="1.25"/>
<circle cx="524.3" cy="295.5" r="1.25"/>
<circle cx="575.2" cy="271.9" r="1.25"/>
<circle cx="582.2" cy="266.4" r="1.25"/>
<circle cx="586.6" cy="267.3" r="1.25"/>
<circle cx="589.7" cy="266.4" r="1.25"/>
<circle cx="592.3" cy="268.4" r="1.25"/>
<circle cx="595.0" cy="264.9" r="1.25"/>
<circle cx="596.3" cy="262.9" r="1.25"/>
<circle cx="597.8" cy="263.8" r="1.25"/>
<circle cx="599.1" cy="265.1" r="1.25"/>
<circle cx="600.9" cy="265.7" r="1.25"/>
<circle cx="598.3" cy="267.3" r="1.25"/>
</g>
<g fill="#F00000">
<circle cx="486.1" cy="277.0" r="1.25"/>
</g>
<g fill="#1478E6">
<circle cx="471.6" cy="334.5" r="1.25"/>
<circle cx="510.0" cy="305.2" r="1.25"/>
<circle cx="510.4" cy="319.7" r="1.25"/>
<circle cx="513.0" cy="317.9" r="1.25"/>
<circle cx="514.6" cy="317.0" r="1.25"/>
<circle cx="515.9" cy="317.0" r="1.25"/>
<circle cx="514.8" cy="318.3" r="1.25"/>
<circle cx="512.4" cy="322.3" r="1.25"/>
<circle cx="512.0" cy="323.8" r="1.25"/>
</g>
<text class="s" x="371.8" y="240.5" font-size="6.1" fill="#222" text-anchor="end" stroke="#222" stroke-width="0.25">25</text>
<text class="s" x="371.8" y="287.4" font-size="6.1" fill="#222" text-anchor="end" stroke="#222" stroke-width="0.25">0</text>
<text class="s" x="371.8" y="334.3" font-size="6.1" fill="#222" text-anchor="end" stroke="#222" stroke-width="0.25">-25</text>
<text class="s" x="382.8" y="375.6" font-size="6.1" fill="#222" text-anchor="middle" stroke="#222" stroke-width="0.25">-40</text>
<text class="s" x="428.1" y="375.6" font-size="6.1" fill="#222" text-anchor="middle" stroke="#222" stroke-width="0.25">-20</text>
<text class="s" x="473.45" y="375.6" font-size="6.1" fill="#222" text-anchor="middle" stroke="#222" stroke-width="0.25">0</text>
<text class="s" x="519.4" y="375.6" font-size="6.1" fill="#222" text-anchor="middle" stroke="#222" stroke-width="0.25">20</text>
<text class="s" x="565.3" y="375.6" font-size="6.1" fill="#222" text-anchor="middle" stroke="#222" stroke-width="0.25">40</text>
<text class="s" x="611.0" y="375.6" font-size="6.1" fill="#222" text-anchor="middle" stroke="#222" stroke-width="0.25">60</text>
<text class="s" x="493.5" y="384.6" font-size="7.3" fill="#222" text-anchor="middle" stroke="#222" stroke-width="0.25">PC1 (19.2%)</text>
<text class="s" x="357.6" y="282" font-size="7.3" fill="#222" text-anchor="middle" transform="rotate(-90 357.6 282)" stroke="#222" stroke-width="0.25">PC2 (10.6%)</text>
<text class="s" x="622.4" y="242.7" font-size="7.4" fill="#111" text-anchor="start" stroke="#111" stroke-width="0.25">Region</text>
<g fill="#F00000">
<circle cx="628.9" cy="253.4" r="1.25"/>
</g>
<text class="s" x="639.2" y="255.6" font-size="6.1" fill="#222" text-anchor="start" stroke="#222" stroke-width="0.25">Western Asia</text>
<g fill="#8B3F0A">
<circle cx="628.9" cy="265.1" r="1.25"/>
</g>
<text class="s" x="637.8" y="267.27" font-size="6.1" fill="#222" text-anchor="start" stroke="#222" stroke-width="0.25">Eastern Africa</text>
<g fill="#147814">
<circle cx="628.9" cy="276.7" r="1.25"/>
</g>
<text class="s" x="637.8" y="278.94" font-size="6.1" fill="#222" text-anchor="start" stroke="#222" stroke-width="0.25">Eastern Europe</text>
<g fill="#147814">
<circle cx="628.9" cy="288.4" r="1.25"/>
</g>
<text class="s" x="637.8" y="290.61" font-size="6.1" fill="#222" text-anchor="start" stroke="#222" stroke-width="0.25">Northern Africa</text>
<g fill="#1478E6">
<circle cx="628.9" cy="300.1" r="1.25"/>
</g>
<text class="s" x="637.8" y="302.28" font-size="6.1" fill="#222" text-anchor="start" stroke="#222" stroke-width="0.25">Southern Asia</text>
<g fill="#4A22F2">
<circle cx="628.9" cy="311.8" r="1.25"/>
</g>
<text class="s" x="637.8" y="313.95" font-size="6.1" fill="#222" text-anchor="start" stroke="#222" stroke-width="0.25">Southern Europe</text>
<g fill="#FF00BF">
<circle cx="628.9" cy="323.4" r="1.25"/>
</g>
<text class="s" x="637.8" y="325.62" font-size="6.1" fill="#222" text-anchor="start" stroke="#222" stroke-width="0.25">Western Asia</text>
</svg>
</body></html>
